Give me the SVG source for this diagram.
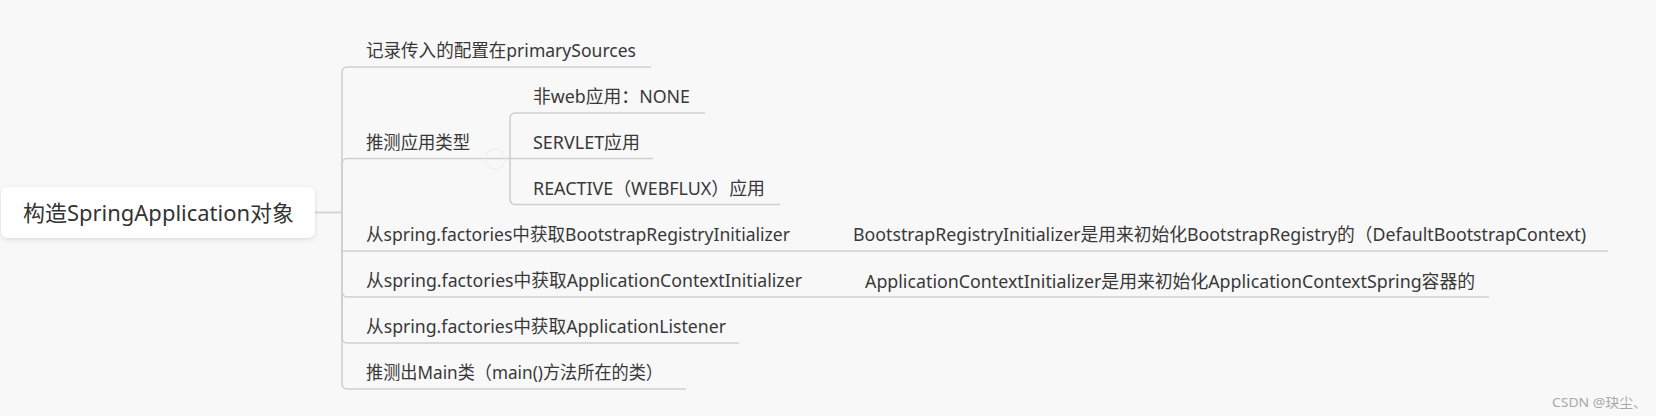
<svg xmlns="http://www.w3.org/2000/svg" width="1656" height="416" viewBox="0 0 1656 416">
<defs>
<filter id="sh" x="-10%" y="-30%" width="120%" height="170%">
<feDropShadow dx="0" dy="1.5" stdDeviation="2" flood-color="#000" flood-opacity="0.12"/>
</filter>
<style>
.t{font-family:"Noto Sans","Noto Sans CJK SC",sans-serif;font-size:18px;fill:#383838}
.r{font-family:"Noto Sans","Noto Sans CJK SC",sans-serif;font-size:22px;fill:#333}
.c{fill:none;stroke:#cfcfcf;stroke-width:1.6}
.w{font-family:"Noto Sans","Noto Sans CJK SC",sans-serif;font-size:13px;fill:#a8a8a8}
</style>
</defs>
<rect width="1656" height="416" fill="#f8f8f8"/>
<g id="connectors">
<path class="c" d="M315 212.5H342"/>
<path class="c" d="M342 212.5V72a5 5 0 0 1 5-5H651"/>
<path class="c" d="M342 212.5V163.5a5 5 0 0 1 5-5H510"/>
<path class="c" d="M342 212.5V251H1608"/>
<path class="c" d="M342 212.5V292a5 5 0 0 0 5 5H1489"/>
<path class="c" d="M342 212.5V338a5 5 0 0 0 5 5H739"/>
<path class="c" d="M342 212.5V384a5 5 0 0 0 5 5H686"/>
<path class="c" d="M510 158.5V118a5 5 0 0 1 5-5H705"/>
<path class="c" d="M510 158.5H653"/>
<path class="c" d="M510 158.5V199.5a5 5 0 0 0 5 5H780"/>
<circle cx="495" cy="159" r="10" fill="none" stroke="#ededed" stroke-width="1"/>
</g>
<g id="root">
<rect x="1" y="187" width="314" height="51" rx="7" fill="#fff" filter="url(#sh)"/>
<text class="r" x="23" y="220.5" textLength="271" lengthAdjust="spacingAndGlyphs">构造SpringApplication对象</text>
</g>
<g id="n1"><text class="t" x="366" y="57" textLength="270" lengthAdjust="spacingAndGlyphs">记录传入的配置在primarySources</text></g>
<g id="n2"><text class="t" x="366" y="148.5" textLength="104" lengthAdjust="spacingAndGlyphs">推测应用类型</text></g>
<g id="n2a"><text class="t" x="533" y="103" textLength="157" lengthAdjust="spacingAndGlyphs">非web应用：NONE</text></g>
<g id="n2b"><text class="t" x="533" y="148.5" textLength="107" lengthAdjust="spacingAndGlyphs">SERVLET应用</text></g>
<g id="n2c"><text class="t" x="533" y="194.5" textLength="232" lengthAdjust="spacingAndGlyphs">REACTIVE（WEBFLUX）应用</text></g>
<g id="n3"><text class="t" x="366" y="241" textLength="424" lengthAdjust="spacingAndGlyphs">从spring.factories中获取BootstrapRegistryInitializer</text></g>
<g id="n3a"><text class="t" x="853" y="241" textLength="733" lengthAdjust="spacingAndGlyphs">BootstrapRegistryInitializer是用来初始化BootstrapRegistry的（DefaultBootstrapContext)</text></g>
<g id="n4"><text class="t" x="366" y="287" textLength="436" lengthAdjust="spacingAndGlyphs">从spring.factories中获取ApplicationContextInitializer</text></g>
<g id="n4a"><text class="t" x="865" y="287.5" textLength="610" lengthAdjust="spacingAndGlyphs">ApplicationContextInitializer是用来初始化ApplicationContextSpring容器的</text></g>
<g id="n5"><text class="t" x="366" y="333" textLength="360" lengthAdjust="spacingAndGlyphs">从spring.factories中获取ApplicationListener</text></g>
<g id="n6"><text class="t" x="366" y="379" textLength="297" lengthAdjust="spacingAndGlyphs">推测出Main类（main()方法所在的类）</text></g>
<text class="w" x="1552" y="407" textLength="95" lengthAdjust="spacingAndGlyphs">CSDN @玦尘、</text>
</svg>
